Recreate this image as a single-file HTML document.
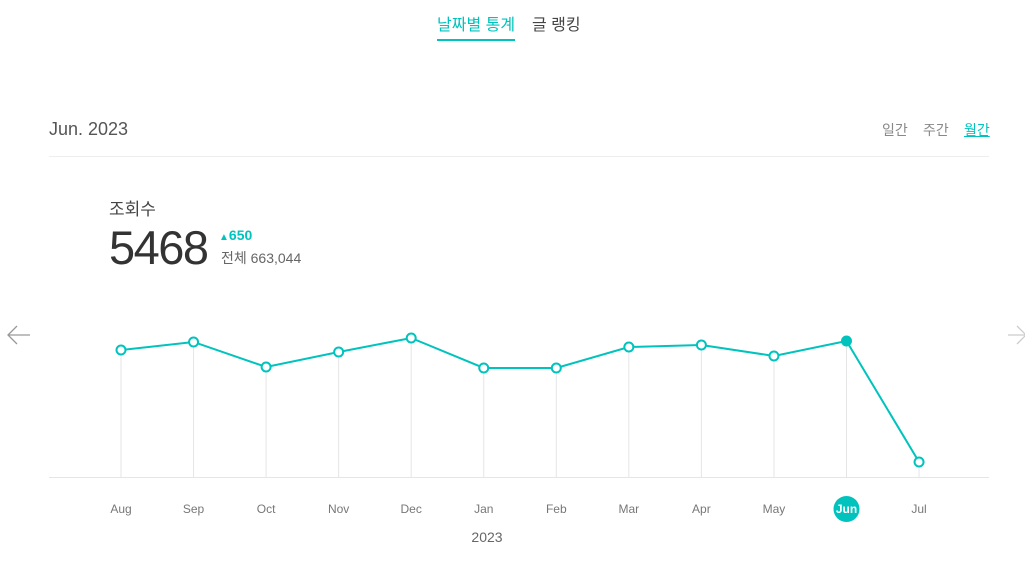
<!DOCTYPE html>
<html><head><meta charset="utf-8"><style>
body{margin:0;width:1025px;height:575px;overflow:hidden;background:#fff;font-family:"Liberation Sans","Noto Sans CJK KR",sans-serif;position:relative;color:#333}
.a{position:absolute;white-space:nowrap}
</style></head><body>
<div class="a" style="left:437px;top:11px;font-size:16px;color:#00c3bd;border-bottom:2px solid #00c3bd;padding-bottom:4px">날짜별 통계</div>
<div class="a" style="left:532px;top:11px;font-size:16px;color:#444">글 랭킹</div>
<div class="a" style="left:49px;top:119px;font-size:18px;color:#555">Jun. 2023</div>
<div class="a" style="left:882px;top:120px;font-size:14px;color:#888">일간</div>
<div class="a" style="left:923px;top:120px;font-size:14px;color:#888">주간</div>
<div class="a" style="left:964px;top:120px;font-size:14px;color:#00c3bd;text-decoration:underline">월간</div>
<div class="a" style="left:49px;top:156px;width:940px;height:1px;background:#eee"></div>
<div class="a" style="left:109px;top:195px;font-size:17px;color:#444">조회수</div>
<div class="a" style="left:109px;top:220px;font-size:47px;color:#333;letter-spacing:-1.5px">5468</div>
<div class="a" style="left:219px;top:227px;font-size:14px;font-weight:bold;color:#00c3bd"><span style="font-size:10px">▲</span>650</div>
<div class="a" style="left:221px;top:248px;font-size:14px;color:#666">전체 663,044</div>
<svg class="a" style="left:6px;top:324px" width="26" height="22"><path d="M24 11H2M11 2L2 11L11 20" fill="none" stroke="#999" stroke-width="1.3"/></svg>
<svg class="a" style="left:1008px;top:324px" width="17" height="22"><path d="M0 11H17M9 2L18 11L9 20" fill="none" stroke="#ccc" stroke-width="1.3"/></svg>
<svg class="a" style="left:0;top:0" width="1025" height="575" id="chart"></svg>
<script>
const categories=["Aug","Sep","Oct","Nov","Dec","Jan","Feb","Mar","Apr","May","Jun","Jul"];
const values=[5078,5425,4340,4991,5599,4297,4297,5208,5295,4818,5468,217];
const selectedIndex=10;
const yearLabel="2023";
const NS="http://www.w3.org/2000/svg";
const svg=document.getElementById('chart');
const x=i=>121+i*72.55;
const y=v=>467-v*(126/5468);
function mk(t,a){const e=document.createElementNS(NS,t);for(const k in a)e.setAttribute(k,a[k]);svg.appendChild(e);return e;}
let base=mk('line',{x1:49,x2:989,y1:477.5,y2:477.5,stroke:'#e5e5e5'});


values.forEach((v,i)=>{const g=mk('line',{x1:x(i),x2:x(i),y1:y(v),y2:477,stroke:'#e5e5e5'});

});
const pl=mk('polyline',{points:values.map((v,i)=>x(i)+','+y(v)).join(' '),fill:'none',stroke:'#00c3bd','stroke-width':2});


values.forEach((v,i)=>{const c=mk('circle',{cx:x(i),cy:y(v),r:4.5,fill:i===selectedIndex?'#00c3bd':'#fff',stroke:'#00c3bd','stroke-width':2});


if(i===selectedIndex){const b=mk('circle',{cx:x(i),cy:509,r:13,fill:'#00c3bd'});

}
const t=mk('text',{x:x(i),y:513,'text-anchor':'middle','font-size':12,fill:i===selectedIndex?'#fff':'#777','font-weight':i===selectedIndex?'bold':'normal'});
t.textContent=categories[i];

});
const yr=mk('text',{x:487,y:542,'text-anchor':'middle','font-size':14,fill:'#666'});
yr.textContent=yearLabel;


</script>
</body></html>
